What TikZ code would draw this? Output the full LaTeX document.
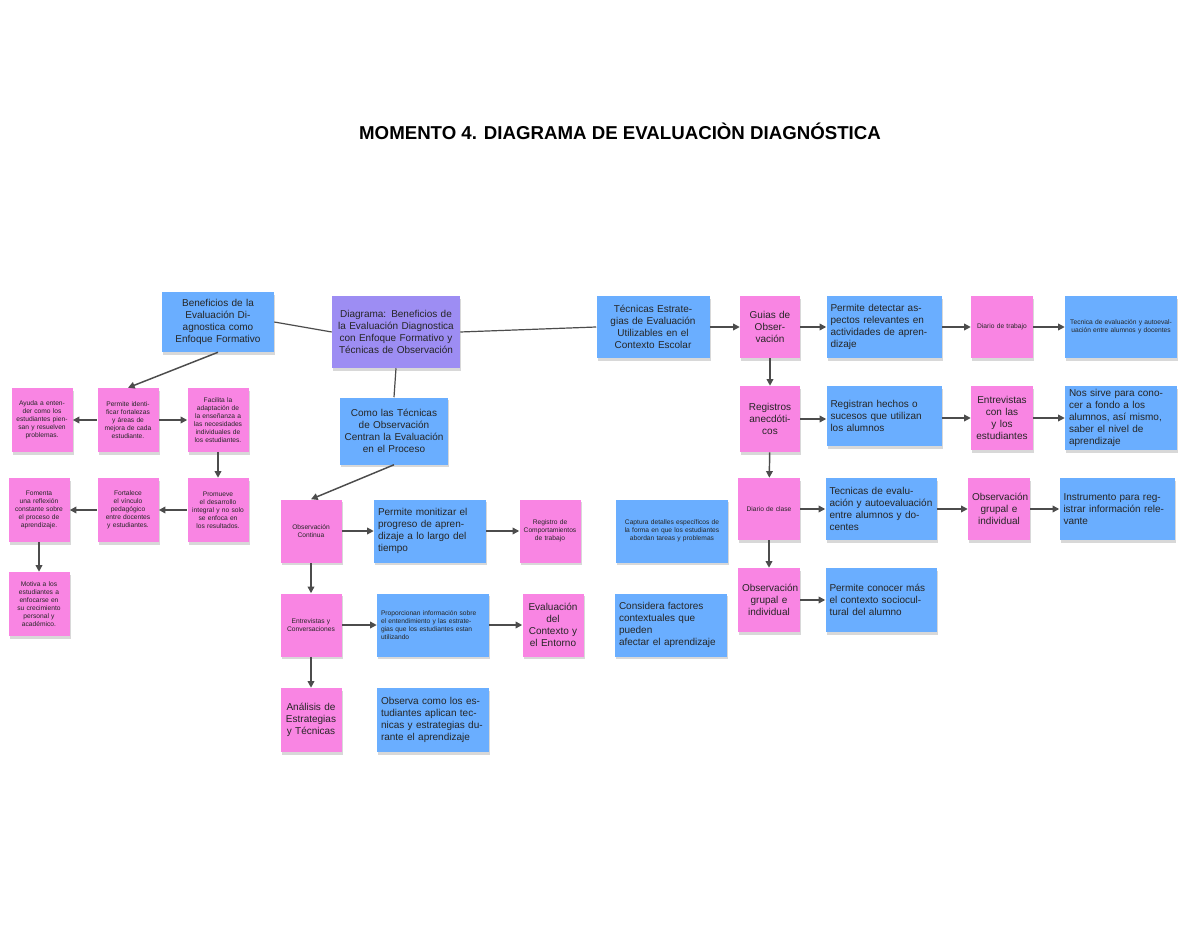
\documentclass[tikz,border=0pt]{standalone}
\usepackage{fontspec}
\setmainfont{Liberation Sans}
\usetikzlibrary{shadows,arrows.meta}
\definecolor{bl}{HTML}{6AAEFF}
\definecolor{pk}{HTML}{F985E3}
\definecolor{pu}{HTML}{9D8DF3}
\tikzset{
 bx/.style={drop shadow={opacity=0.3,shadow xshift=1pt,shadow yshift=-2pt},inner sep=2pt,align=center,font=\fontsize{5}{6}\selectfont,text=black!85},
 b/.style={bx,fill=bl},
 p/.style={bx,fill=pk},
 ar/.style={draw=black!70,line width=1.1pt,-{Triangle[length=5pt,width=5pt]}},
 ln/.style={draw=black!70,line width=0.9pt},
 big/.style={font=\fontsize{7.5}{9}\selectfont},
 lft/.style={align=left}
}
\newcommand{\bxat}[6]{\node[#1,minimum width=#4*0.75pt,minimum height=#5*0.75pt,text width=#4*0.75pt-6pt] (#6) at (#2*0.75pt,-#3*0.75pt)}
\begin{document}
\begin{tikzpicture}
\useasboundingbox (0,0) rectangle (900pt,-695.25pt);
\fill[white] (0,0) rectangle (900pt,-695.25pt);
\node[font=\bfseries\fontsize{14}{16}\selectfont] (title) at (620*0.75pt,-131*0.75pt) {MOMENTO 4. DIAGRAMA DE EVALUACIÒN DIAGNÓSTICA};
% central
\bxat{b,big}{218}{322}{112}{60}{ben}{Beneficios de la Evaluación Diagnostica como Enfoque Formativo};
\bxat{bx,fill=pu,big}{396}{332}{128}{72}{dia}{Diagrama: Beneficios de la Evaluación Diagnostica con Enfoque Formativo y Técnicas de Observación};
\bxat{b,big}{653}{327}{113}{62}{tec}{Técnicas Estrategias de Evaluación Utilizables en el Contexto Escolar};
\bxat{b,big}{394}{431}{108}{67}{como}{Como las Técnicas de Observación Centran la Evaluación en el Proceso};
% right
\bxat{p,big}{770}{327}{60}{62}{guia}{Guias de Observación};
\bxat{b,big,lft}{884}{327}{115}{62}{pdet}{Permite detectar aspectos relevantes en actividades de aprendizaje};
\bxat{p}{1002}{327}{62}{62}{dtra}{Diario de trabajo};
\bxat{b}{1121}{327}{112}{62}{teva}{Tecnica de evaluación y autoevaluación entre alumnos y docentes};
\bxat{p,big}{770}{419}{60}{66}{reg}{Registros anecdóticos};
\bxat{b,big,lft}{884}{416}{115}{60}{rhec}{Registran hechos o sucesos que utilizan los alumnos};
\bxat{p,big}{1002}{418}{62}{64}{ent}{Entrevistas con las y los estudiantes};
\bxat{b,big,lft}{1121}{418}{112}{64}{nos}{Nos sirve para conocer a fondo a los alumnos, así mismo, saber el nivel de aprendizaje};
\bxat{p}{769}{509}{62}{62}{dcla}{Diario de clase};
\bxat{b,big,lft}{881}{509}{111}{62}{tev2}{Tecnicas de evaluación y autoevaluación entre alumnos y docentes};
\bxat{p,big}{999}{509}{62}{62}{ogi}{Observación grupal e individual};
\bxat{b,big,lft}{1117}{509}{115}{62}{ins}{Instrumento para registrar información relevante};
\bxat{p,big}{769}{600}{62}{64}{ogi2}{Observación grupal e individual};
\bxat{b,big,lft}{881}{600}{111}{64}{pcon}{Permite conocer más el contexto sociocultural del alumno};
\bxat{b}{672}{531}{112}{63}{cap}{Captura detalles específicos de la forma en que los estudiantes abordan tareas y problemas};
\bxat{b,big,lft}{671}{625}{112}{63}{cons}{Considera factores contextuales que pueden\\afectar el aprendizaje};
% middle
\bxat{p}{311}{531}{61}{63}{oc}{Observación Continua};
\bxat{b,big,lft}{430}{531}{112}{63}{pmon}{Permite monitizar el progreso de aprendizaje a lo largo del tiempo};
\bxat{p}{550}{531}{61}{63}{rcom}{Registro de Comportamientos de trabajo};
\bxat{p}{311}{625}{61}{63}{ec}{Entrevistas y Conversaciones};
\bxat{b,lft}{433}{625}{112}{63}{prop}{Proporcionan información sobre el entendimiento y las estrategias que los estudiantes estan utilizando};
\bxat{p,big}{553}{625}{61}{63}{evc}{Evaluación del Contexto y el Entorno};
\bxat{p,big}{311}{720}{61}{64}{ana}{Análisis de Estrategias y Técnicas};
\bxat{b,lft,big}{433}{720}{112}{64}{obs}{Observa como los estudiantes aplican tecnicas y estrategias durante el aprendizaje};
% left
\bxat{p}{42}{420}{61}{64}{ayu}{Ayuda a entender como los estudiantes piensan y resuelven problemas.};
\bxat{p}{128}{420}{61}{64}{pid}{Permite identificar fortalezas y áreas de mejora de cada estudiante.};
\bxat{p}{218}{420}{61}{64}{fac}{Facilita la adaptación de la enseñanza a las necesidades individuales de los estudiantes.};
\bxat{p}{218}{510}{61}{64}{pro}{Promueve el desarrollo integral y no solo se enfoca en los resultados.};
\bxat{p}{128}{510}{61}{64}{for}{Fortalece el vínculo pedagógico entre docentes y estudiantes.};
\bxat{p}{39}{510}{61}{64}{fom}{Fomenta una reflexión constante sobre el proceso de aprendizaje.};
\bxat{p}{39}{604}{61}{64}{mot}{Motiva a los estudiantes a enfocarse en su crecimiento personal y académico.};
% connectors
\draw[ln] (ben.east) -- (dia.west);
\draw[ln] (dia.east) -- (tec.west);
\draw[ln] (dia.south) -- (como.north);
\draw[ar] (tec) -- (guia);
\draw[ar] (guia) -- (pdet);
\draw[ar] (pdet) -- (dtra);
\draw[ar] (dtra) -- (teva);
\draw[ar] (guia) -- (reg);
\draw[ar] (reg) -- (dcla);
\draw[ar] (dcla) -- (ogi2);
\draw[ar] (reg.east) -- (rhec.west |- reg.east);
\draw[ar] (rhec.east |- ent.west) -- (ent.west);
\draw[ar] (ent) -- (nos);
\draw[ar] (dcla) -- (tev2);
\draw[ar] (tev2) -- (ogi);
\draw[ar] (ogi) -- (ins);
\draw[ar] (ogi2) -- (pcon);
\draw[ar] (ben.south) -- (pid.north);
\draw[ar] (como.south) -- (oc.north);
\draw[ar] (oc) -- (pmon);
\draw[ar] (pmon) -- (rcom);
\draw[ar] (oc) -- (ec);
\draw[ar] (ec) -- (prop);
\draw[ar] (prop) -- (evc);
\draw[ar] (ec) -- (ana);
\draw[ar] (pid) -- (ayu);
\draw[ar] (pid) -- (fac);
\draw[ar] (fac) -- (pro);
\draw[ar] (pro) -- (for);
\draw[ar] (for) -- (fom);
\draw[ar] (fom) -- (mot);
\end{tikzpicture}
\end{document}
